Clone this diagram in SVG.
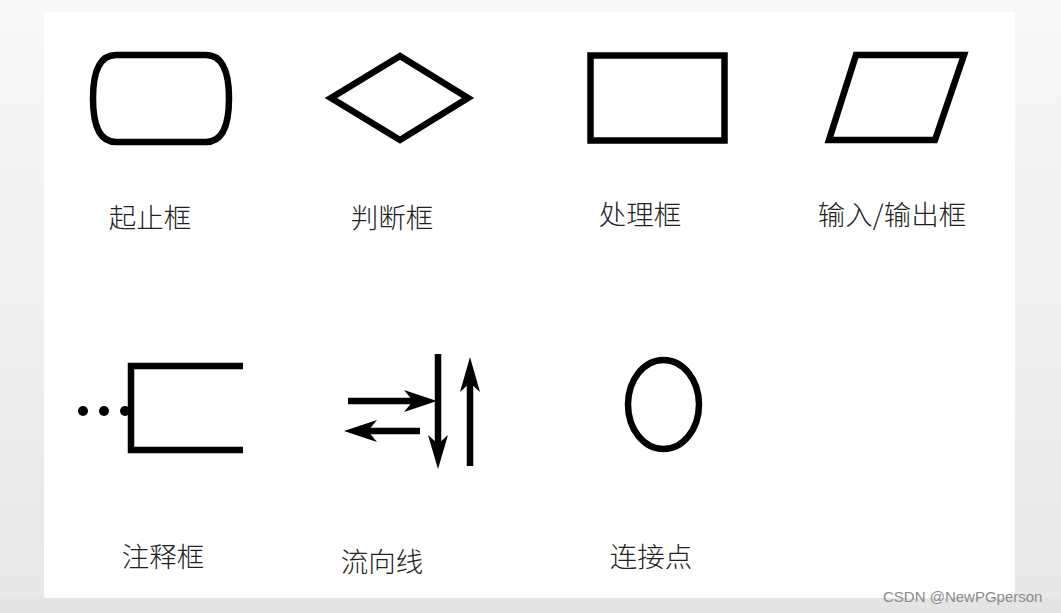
<svg xmlns="http://www.w3.org/2000/svg" width="1061" height="613" viewBox="0 0 1061 613">
<defs>
<linearGradient id="bg" x1="0" y1="0" x2="0" y2="1">
<stop offset="0" stop-color="#f8f8f8"/>
<stop offset="1" stop-color="#e7e7e7"/>
</linearGradient>
<style>
.s{fill:none;stroke:#000;stroke-width:6.5;stroke-linejoin:miter}
.r{fill:none;stroke:#000;stroke-width:6.5;stroke-linecap:butt}
.h{fill:#000;stroke:none}
.t{font-family:"Noto Sans CJK SC","Noto Sans",sans-serif;font-size:27.5px;font-weight:300;fill:#222;text-anchor:middle}
.w{font-family:"Liberation Sans",Arial,sans-serif;font-size:15px;fill:#8a8a8a}
</style>
</defs>
<rect x="0" y="0" width="1061" height="613" fill="url(#bg)"/>
<rect x="0" y="598" width="1061" height="15" fill="#e4e4e4"/>
<rect x="44" y="12" width="971" height="586" fill="#ffffff"/>

<g id="terminator">
<path class="s" d="M116,55 H206 Q229,55 229,98.5 Q229,142 206,142 H116 Q93,142 93,98.5 Q93,55 116,55 Z"/>
<text class="t" x="150" y="228">起止框</text>
</g>
<g id="decision">
<path class="s" d="M400,56 L468,98 L400,140 L331,98 Z"/>
<text class="t" x="392" y="228">判断框</text>
</g>
<g id="process">
<rect class="s" x="590.5" y="55.5" width="134" height="85"/>
<text class="t" x="640" y="225">处理框</text>
</g>
<g id="io">
<path class="s" d="M856,55 H964 L935,140 H829 Z"/>
<text class="t" x="892" y="225">输入/输出框</text>
</g>
<g id="annotation">
<path class="s" d="M243,366 H131 V450 H243"/>
<circle class="h" cx="83" cy="411" r="5"/>
<circle class="h" cx="104" cy="411" r="5"/>
<circle class="h" cx="125" cy="411" r="5"/>
<text class="t" x="163" y="567">注释框</text>
</g>
<g id="flowlines">
<line class="r" x1="348" y1="401" x2="416" y2="401"/>
<path class="h" d="M437,401 L404,390 L413,401 L404,412 Z"/>
<line class="r" x1="367" y1="431" x2="420" y2="431"/>
<path class="h" d="M344,431 L377,420 L368,431 L377,442 Z"/>
<line class="r" x1="438" y1="354" x2="438" y2="448"/>
<path class="h" d="M438,469 L428,435 L438,444 L448,435 Z"/>
<line class="r" x1="470" y1="378" x2="470" y2="466"/>
<path class="h" d="M470,357 L460,392 L470,383 L480,392 Z"/>
<text class="t" x="382" y="572">流向线</text>
</g>
<g id="connector">
<ellipse class="s" cx="663.5" cy="404.5" rx="35.5" ry="44.5"/>
<text class="t" x="651" y="567">连接点</text>
</g>
<text class="w" x="883" y="602">CSDN @NewPGperson</text>
</svg>
